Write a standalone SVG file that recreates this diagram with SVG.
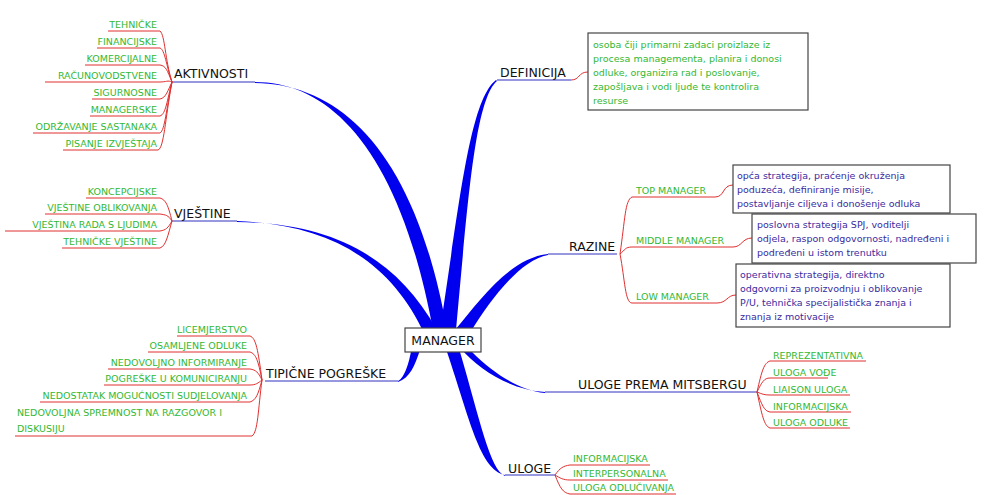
<svg xmlns="http://www.w3.org/2000/svg" width="989" height="495" viewBox="0 0 989 495">
<style>
text{font-family:"DejaVu Sans","Liberation Sans",sans-serif}
.m{font-size:12.5px;fill:#111}
.c{font-size:9.5px;fill:#33b833}
.l{text-anchor:end}
.r{fill:none;stroke:#e03030;stroke-width:1}
.u{fill:none;stroke:#3030c0;stroke-width:1}
.b{fill:#0000ee}
.bx{fill:#fff;stroke:#444;stroke-width:1.2}
.d{font-size:9.5px;fill:#33b833}
.p{font-size:9.5px;fill:#3a2aa0}
</style>
<g id="connectors">
<path class="b" d="M255,82 C330,82 400,150 433,330 L447,330 C415,150 340,84 255,83 Z"/>
<path class="b" d="M237,221 C330,225 390,260 425,335 L437,330 C395,255 330,223 237,222 Z"/>
<path class="b" d="M398,381 C405,378 410,360 412,345 L420,350 C415,365 410,378 398,382 Z"/>
<path class="b" d="M496,80 C470,100 460,200 440,330 L456,330 C468,200 475,100 497,81 Z"/>
<path class="b" d="M548,254 C510,258 480,300 455,330 L470,333 C490,300 520,260 548,255 Z"/>
<path class="b" d="M545,392 C510,390 480,370 460,348 L472,352 C495,375 520,390 545,393 Z"/>
<path class="b" d="M505,475 C480,470 470,420 447,352 L460,352 C480,420 490,470 505,476 Z"/>
<path class="u" d="M255,82 H172 M237,221 H172 M398,381 H265 M497,80 H571 M548,254 H617 M545,392 H757 M505,475 H555"/>
<g class="r">
<path d="M172,82 C165,60 165,35 160,31 H108"/><path d="M172,82 C166,65 165,50 160,48 H97"/>
<path d="M172,82 C167,70 166,66 160,65 H85"/><path d="M172,82 C168,80 166,82 160,82 H45"/>
<path d="M172,82 C168,90 166,98 160,99 H92"/><path d="M172,82 C167,100 166,114 160,116 H90"/>
<path d="M172,82 C166,110 165,130 160,133 H33"/><path d="M172,82 C165,120 164,148 158,150 H63"/>
<path d="M172,221 C168,205 166,200 160,198 H86"/><path d="M172,221 C168,215 166,215 160,214 H45"/>
<path d="M172,221 C168,228 166,230 160,231 H5"/><path d="M172,221 C168,235 166,246 160,248 H62"/>
<path d="M262,380 C258,350 256,338 250,336 H177"/><path d="M262,380 C258,360 256,354 250,352 H148"/>
<path d="M262,380 C258,372 256,370 250,369 H108"/><path d="M262,380 C258,383 256,385 250,385 H104"/>
<path d="M262,380 C258,395 256,400 250,402 H40"/><path d="M262,380 C258,410 258,432 252,436 H15"/>
<path d="M571,80 C580,80 578,72 588,72"/>
<path d="M620,254 C625,220 625,200 632,197 H715 C725,197 722,185 733,185"/>
<path d="M620,254 C625,250 625,247 632,247 H733 C742,247 742,238 752,238"/>
<path d="M620,254 C625,280 625,303 632,303 H717 C727,303 727,295 736,295"/>
<path d="M757,392 C762,370 764,363 770,361 H866"/><path d="M757,392 C762,382 764,378 770,378 H828"/>
<path d="M757,392 C762,394 764,395 770,395 H850"/><path d="M757,392 C762,405 764,411 770,412 H851"/>
<path d="M757,392 C762,415 764,426 770,428 H850"/>
<path d="M555,475 C560,468 563,466 570,465 H650"/><path d="M555,475 C560,478 563,480 570,480 H668"/>
<path d="M555,475 C560,488 563,493 570,494 H676"/>
</g>
</g>
<g id="manager"><rect class="bx" x="405" y="328" width="76" height="24"/><text class="m" x="443" y="345" text-anchor="middle">MANAGER</text></g>
<g id="aktivnosti"><text class="m" x="174" y="78">AKTIVNOSTI</text>
<g class="c l"><text x="157" y="28">TEHNIČKE</text><text x="157" y="45">FINANCIJSKE</text><text x="157" y="62">KOMERCIJALNE</text><text x="157" y="79">RAČUNOVODSTVENE</text><text x="157" y="96">SIGURNOSNE</text><text x="157" y="113">MANAGERSKE</text><text x="157" y="130">ODRŽAVANJE SASTANAKA</text><text x="157" y="147">PISANJE IZVJEŠTAJA</text></g></g>
<g id="vjestine"><text class="m" x="174" y="218">VJEŠTINE</text>
<g class="c l"><text x="157" y="195">KONCEPCIJSKE</text><text x="157" y="211">VJEŠTINE OBLIKOVANJA</text><text x="157" y="228">VJEŠTINA RADA S LJUDIMA</text><text x="157" y="245">TEHNIČKE VJEŠTINE</text></g></g>
<g id="pogreske"><text class="m" x="266" y="378">TIPIČNE POGREŠKE</text>
<g class="c"><text class="l" x="247" y="333">LICEMJERSTVO</text><text class="l" x="247" y="349">OSAMLJENE ODLUKE</text><text class="l" x="247" y="366">NEDOVOLJNO INFORMIRANJE</text><text class="l" x="247" y="382">POGREŠKE U KOMUNICIRANJU</text><text class="l" x="247" y="399">NEDOSTATAK MOGUĆNOSTI SUDJELOVANJA</text><text x="17" y="416">NEDOVOLJNA SPREMNOST NA RAZGOVOR I</text><text x="17" y="432">DISKUSIJU</text></g></g>
<g id="definicija"><text class="m" x="500" y="77">DEFINICIJA</text>
<rect class="bx" x="588" y="33" width="220" height="77"/>
<g class="d"><text x="593" y="48">osoba čiji primarni zadaci proizlaze iz</text><text x="593" y="62">procesa managementa, planira i donosi</text><text x="593" y="76">odluke, organizira rad i poslovanje,</text><text x="593" y="90">zapošljava i vodi ljude te kontrolira</text><text x="593" y="104">resurse</text></g></g>
<g id="razine"><text class="m" x="569" y="251">RAZINE</text>
<g class="c"><text x="636" y="194">TOP MANAGER</text><text x="636" y="244">MIDDLE MANAGER</text><text x="636" y="300">LOW MANAGER</text></g>
<rect class="bx" x="733" y="165" width="217" height="48"/>
<g class="p"><text x="737" y="179">opća strategija, praćenje okruženja</text><text x="737" y="193">poduzeća, definiranje misije,</text><text x="737" y="207">postavljanje ciljeva i donošenje odluka</text></g>
<rect class="bx" x="752" y="214" width="224" height="49"/>
<g class="p"><text x="757" y="228">poslovna strategija SPJ, voditelji</text><text x="757" y="242">odjela, raspon odgovornosti, nadređeni i</text><text x="757" y="256">podređeni u istom trenutku</text></g>
<rect class="bx" x="736" y="264" width="214" height="63"/>
<g class="p"><text x="740" y="278">operativna strategija, direktno</text><text x="740" y="292">odgovorni za proizvodnju i oblikovanje</text><text x="740" y="306">P/U, tehnička specijalistička znanja i</text><text x="740" y="320">znanja iz motivacije</text></g></g>
<g id="mitsberg"><text class="m" x="578" y="389">ULOGE PREMA MITSBERGU</text>
<g class="c"><text x="773" y="359">REPREZENTATIVNA</text><text x="773" y="376">ULOGA VOĐE</text><text x="773" y="393">LIAISON ULOGA</text><text x="773" y="410">INFORMACIJSKA</text><text x="773" y="426">ULOGA ODLUKE</text></g></g>
<g id="uloge"><text class="m" x="508" y="473">ULOGE</text>
<g class="c"><text x="573" y="462">INFORMACIJSKA</text><text x="573" y="477">INTERPERSONALNA</text><text x="573" y="491">ULOGA ODLUČIVANJA</text></g></g>
</svg>
